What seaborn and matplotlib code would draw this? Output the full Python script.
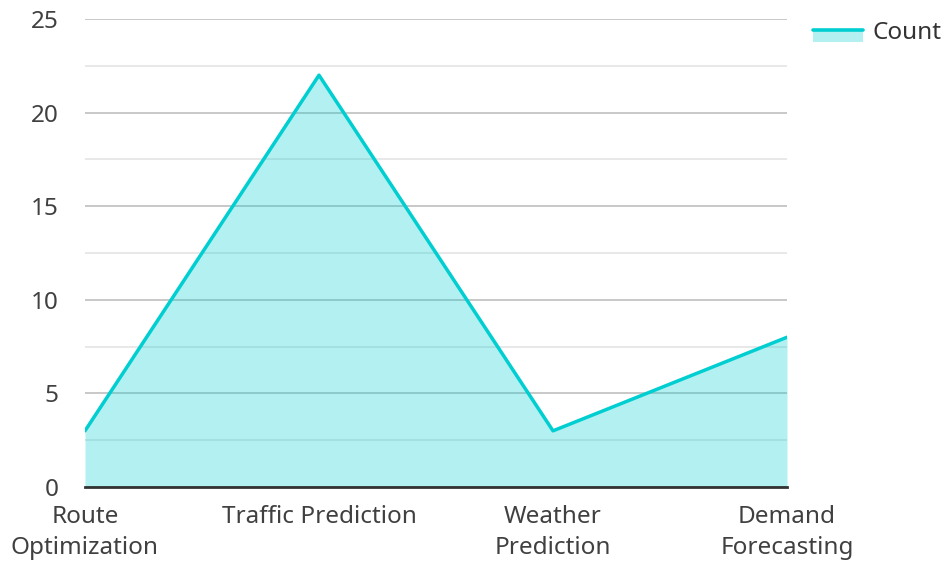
import matplotlib
matplotlib.use("Agg")
import matplotlib.pyplot as plt
from matplotlib.lines import Line2D
from matplotlib.patches import Patch, Rectangle
from matplotlib.legend_handler import HandlerBase
import seaborn as sns
import pandas as pd

categories = ["Route\nOptimization", "Traffic Prediction", "Weather\nPrediction", "Demand\nForecasting"]
counts = [3, 22, 3, 8]
series_name = "Count"

sns.set_style("white")
plt.rcParams["font.family"] = ["Noto Sans", "DejaVu Sans"]

line_color = "#00CED1"
fill_color = "#00CED1"
font_size = 17.5


class AreaHandler(HandlerBase):
    """Legend key: series line with a translucent fill band hanging below it."""

    def create_artists(self, legend, orig_handle, xdescent, ydescent, width, height, fontsize, trans):
        mid = -ydescent + height / 2
        band = 8.0
        patch = Rectangle((-xdescent, mid - band), width, band,
                          facecolor=fill_color, alpha=0.3, lw=0, transform=trans)
        line = Line2D([-xdescent, -xdescent + width], [mid, mid],
                      color=line_color, lw=2.6, transform=trans)
        return [patch, line]


df = pd.DataFrame({"pos": range(len(categories)), "value": counts})

fig = plt.figure(figsize=(9.45, 5.62), dpi=100)
ax = fig.add_axes([85 / 945, 1 - 487 / 562, (787 - 85) / 945, (487 - 19) / 562])

ax.set_axisbelow(True)
ax.fill_between(df["pos"], df["value"], 0, color=fill_color, alpha=0.3, lw=0, zorder=2)
sns.lineplot(data=df, x="pos", y="value", ax=ax, color=line_color, lw=2.5, zorder=3)

ax.set_xlim(0, len(categories) - 1)
ax.set_ylim(0, 25)
ax.set_yticks([0, 5, 10, 15, 20, 25])
ax.set_yticks([2.5, 7.5, 12.5, 17.5, 22.5], minor=True)
ax.set_xticks(range(len(categories)))
ax.set_xticklabels(categories, linespacing=1.4)

ax.grid(axis="y", which="major", color="#c4c4c4", lw=1.3)
ax.grid(axis="y", which="minor", color="#e6e6e6", lw=1.3)
ax.grid(axis="x", visible=False)

for side in ["left", "right", "top"]:
    ax.spines[side].set_visible(False)
ax.spines["bottom"].set_color("#333333")
ax.spines["bottom"].set_linewidth(2)
ax.spines["bottom"].set_zorder(4)

ax.tick_params(axis="both", which="both", length=0, labelsize=font_size, colors="#404040")
ax.tick_params(axis="x", pad=13)
ax.tick_params(axis="y", pad=19)
ax.set_xlabel("")
ax.set_ylabel("")

handle = Patch()
fig.legend([handle], [series_name], handler_map={Patch: AreaHandler()},
           loc="upper right", bbox_to_anchor=(942 / 945, 1 - 21 / 562), frameon=False,
           borderpad=0, borderaxespad=0,
           fontsize=font_size, handlelength=2.05, handleheight=0.7, handletextpad=0.42,
           labelcolor="#333333")

fig.savefig("out.png", dpi=100)
